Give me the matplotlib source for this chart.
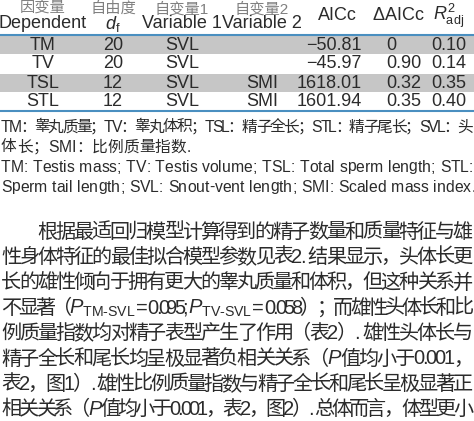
import re
import matplotlib.pyplot as plt
from matplotlib.patches import Rectangle

plt.rcParams['font.family'] = ['Liberation Sans', 'Noto Sans CJK SC']
plt.rcParams['mathtext.fontset'] = 'custom'
plt.rcParams['mathtext.rm'] = 'Liberation Sans'
plt.rcParams['mathtext.it'] = 'Liberation Sans:italic'

W, H = 474, 421

# table data
dependent = ['TM', 'TV', 'TSL', 'STL']
dfree = ['20', '20', '12', '12']
variable1 = ['SVL', 'SVL', 'SVL', 'SVL']
variable2 = ['', '', 'SMI', 'SMI']
aicc = ['\u221250.81', '\u221245.97', '1618.01', '1601.94']
delta_aicc = ['0', '0.90', '0.32', '0.35']
r2_adj = ['0.10', '0.14', '0.35', '0.40']

notes = [
    'TM：睾丸质量；TV：睾丸体积；TSL：精子全长；STL：精子尾长；SVL：头',
    '体长；SMI：比例质量指数.',
    'TM: Testis mass; TV: Testis volume; TSL: Total sperm length; STL:',
    'Sperm tail length; SVL: Snout-vent length; SMI: Scaled mass index.',
]
notes_justified = [True, False, True, False]

paragraph = [
    '\u3000\u3000根据最适回归模型计算得到的精子数量和质量特征与雄',
    '性身体特征的最佳拟合模型参数见表2. 结果显示，头体长更',
    '长的雄性倾向于拥有更大的睾丸质量和体积，但这种关系并',
    r'不显著（$P_{\mathrm{TM}\text{-}\mathrm{SVL}}$ = 0.095; $P_{\mathrm{TV}\text{-}\mathrm{SVL}}$ = 0.058）；而雄性头体长和比',
    '例质量指数均对精子表型产生了作用（表2）. 雄性头体长与',
    '精子全长和尾长均呈极显著负相关关系（$P$值均小于0.001，',
    '表2，图1）. 雄性比例质量指数与精子全长和尾长呈极显著正',
    '相关关系（$P$值均小于0.001，表2，图2）. 总体而言，体型更小',
]

fig = plt.figure(figsize=(W / 100, H / 100), dpi=100)
ax = fig.add_axes([0, 0, 1, 1])
ax.set_xlim(0, W)
ax.set_ylim(H, 0)
ax.axis('off')
renderer = fig.canvas.get_renderer()

txt = '#2b2b2b'
head = '#808080'


def tokens(line):
    # math stays whole, plain text goes char by char
    out = []
    for part in re.split(r'(\$[^$]*\$)', line):
        if part.startswith('$'):
            out.append(part)
        else:
            out.extend(list(part))
    return out


def draw_line(line, y, size, justify, x0=1, x1=W - 1):
    toks = tokens(line)
    arts, widths = [], []
    for t in toks:
        a = ax.text(0, y, t if t != ' ' else '\u2002', ha='left', va='center',
                    fontsize=size, color=txt)
        w = a.get_window_extent(renderer).width
        if t == ' ':
            w *= 0.6
        arts.append(a)
        widths.append(w)
    gap = 0
    if justify and len(toks) > 1:
        gap = (x1 - x0 - sum(widths)) / (len(toks) - 1)
    x = x0
    for a, w in zip(arts, widths):
        a.set_x(x)
        x += w + gap


# header
hy1, hy2 = 9, 24
for x, cn, en in [(43, '因变量', 'Dependent'), (113, '自由度', '$d_{\\mathrm{f}}$'),
                  (182, '自变量1', 'Variable 1'), (262, '自变量2', 'Variable 2')]:
    ax.text(x, hy1, cn, ha='center', va='center', fontsize=11, color=head)
    ax.text(x, hy2, en, ha='center', va='center', fontsize=13, color=txt)
ax.text(337, 16, 'AICc', ha='center', va='center', fontsize=13, color=txt)
ax.text(398, 16, '$\\mathit{\\Delta}$AICc', ha='center', va='center', fontsize=13, color=txt)
ax.text(449, 16, '$R^{2}_{\\mathrm{adj}}$', ha='center', va='center', fontsize=13, color=txt)

ax.plot([0, W], [35, 35], color='#4a8fc0', lw=1.5)
ax.plot([0, W], [111, 111], color='#4a8fc0', lw=1.5)

row_y = [45, 64, 83, 102]
for i, y in enumerate(row_y):
    if i % 2 == 0:
        ax.add_patch(Rectangle((0, y - 9), W, 18, color='#c6c6c6', lw=0))
    kw = dict(va='center', fontsize=13, color=txt)
    ax.text(43, y, dependent[i], ha='center', **kw)
    ax.text(113, y, dfree[i], ha='center', **kw)
    ax.text(182, y, variable1[i], ha='center', **kw)
    ax.text(262, y, variable2[i], ha='center', **kw)
    ax.text(362, y, aicc[i], ha='right', **kw)
    ax.text(386, y, delta_aicc[i], ha='left', **kw)
    ax.text(449, y, r2_adj[i], ha='center', **kw)

for i, line in enumerate(notes):
    draw_line(line, 127 + 20 * i, 11.3, notes_justified[i])

for i, line in enumerate(paragraph):
    draw_line(line, 232 + 25.4 * i, 14.5, True)

fig.savefig('out.png', dpi=100, facecolor='white')
